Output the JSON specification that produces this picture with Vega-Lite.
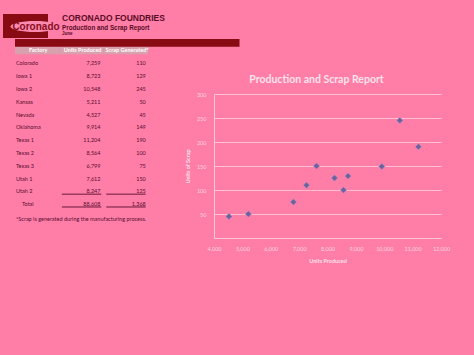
{
  "$schema": "https://vega.github.io/schema/vega-lite/v6.json",
  "width": 227,
  "height": 144,
  "autosize": {"type": "none"},
  "padding": {"left": 214, "top": 94, "right": 33, "bottom": 117},
  "background": "#fe7ea7",
  "config": {"view": {"stroke": null}, "font": "Lato"},
  "title": {"text": "Production and Scrap Report", "frame": "group", "anchor": "middle", "dx": -11, "offset": -72, "font": "Lato", "fontSize": 10.5, "fontWeight": "bold", "color": "#fde3ec"},
  "datasets": {
    "factories": [
      {"factory": "Colorado", "units": 7259, "scrap": 110},
      {"factory": "Iowa 1", "units": 8723, "scrap": 129},
      {"factory": "Iowa 2", "units": 10548, "scrap": 245},
      {"factory": "Kansas", "units": 5211, "scrap": 50},
      {"factory": "Nevada", "units": 4527, "scrap": 45},
      {"factory": "Oklahoma", "units": 9914, "scrap": 149},
      {"factory": "Texas 1", "units": 11204, "scrap": 190},
      {"factory": "Texas 2", "units": 8564, "scrap": 100},
      {"factory": "Texas 3", "units": 6799, "scrap": 75},
      {"factory": "Utah  1", "units": 7612, "scrap": 150},
      {"factory": "Utah  2", "units": 8247, "scrap": 125}
    ],
    "totals": [{"factory": "Total", "units": 88608, "scrap": 1368}],
    "columns": [{"col": "Factory"}, {"col": "Units Produced"}, {"col": "Scrap Generated*"}],
    "underlines": [
      {"col": "Units Produced", "row": "Utah  2"},
      {"col": "Scrap Generated*", "row": "Utah  2"},
      {"col": "Units Produced", "row": "Total"},
      {"col": "Scrap Generated*", "row": "Total"}
    ],
    "one": [{}]
  },
  "layer": [
    {
      "layer": [
        {
          "data": {"name": "columns"},
          "mark": {"type": "rect", "color": "#d8a1ad"},
          "encoding": {
            "x": {"field": "col", "type": "nominal", "axis": null, "scale": {"type": "band", "domain": ["Factory", "Units Produced", "Scrap Generated*"], "range": [-199, -65.7], "paddingInner": 0, "paddingOuter": 0}},
            "y": {"datum": "Factory", "type": "nominal", "axis": null, "scale": {"type": "band", "domain": ["Factory", "Colorado", "Iowa 1", "Iowa 2", "Kansas", "Nevada", "Oklahoma", "Texas 1", "Texas 2", "Texas 3", "Utah  1", "Utah  2", "Total"], "range": [-50, 116.7], "paddingInner": 0.4, "paddingOuter": 0.2}}
          }
        },
        {
          "data": {"name": "columns"},
          "mark": {"type": "text", "color": "#ffffff", "font": "Lato", "fontSize": 5.5, "fontWeight": "bold", "align": "center", "baseline": "middle", "xOffset": 1},
          "encoding": {
            "x": {"field": "col", "type": "nominal", "axis": null},
            "y": {"datum": "Factory", "type": "nominal", "axis": null},
            "text": {"field": "col"}
          }
        },
        {
          "data": {"name": "one"},
          "mark": {"type": "rect", "color": "#880a12", "yOffset": -7.6, "y2Offset": -7.6, "x2Offset": 91.2},
          "encoding": {
            "x": {"datum": "Factory", "type": "nominal", "bandPosition": 0, "axis": null},
            "x2": {"datum": "Scrap Generated*", "bandPosition": 1},
            "y": {"datum": "Factory", "type": "nominal", "axis": null}
          }
        },
        {
          "data": {"name": "one"},
          "mark": {"type": "point", "shape": "M-1,-0.5333H1V0.5333H-1Z", "size": 2025, "filled": true, "color": "#880a12", "opacity": 1, "xOffset": 10.5, "yOffset": -24.4},
          "encoding": {
            "x": {"datum": "Factory", "type": "nominal", "bandPosition": 0, "axis": null},
            "y": {"datum": "Factory", "type": "nominal", "axis": null}
          }
        },
        {
          "data": {"name": "one"},
          "mark": {"type": "point", "shape": "M-1,0C-1,-0.124,-0.5523,-0.2245,0,-0.2245C0.5523,-0.2245,1,-0.124,1,0C1,0.124,0.5523,0.2245,0,0.2245C-0.5523,0.2245,-1,0.124,-1,0Z", "size": 2401, "filled": true, "color": "#fb8ab1", "opacity": 1, "xOffset": 20, "yOffset": -23.9},
          "encoding": {
            "x": {"datum": "Factory", "type": "nominal", "bandPosition": 0, "axis": null},
            "y": {"datum": "Factory", "type": "nominal", "axis": null}
          }
        },
        {
          "data": {"name": "one"},
          "mark": {"type": "text", "text": "Coronado", "font": "Liberation Sans", "fontSize": 10, "fontWeight": "bold", "color": "#8b0a1a", "align": "center", "baseline": "middle", "xOffset": 21, "yOffset": -23.4},
          "encoding": {
            "x": {"datum": "Factory", "type": "nominal", "bandPosition": 0, "axis": null},
            "y": {"datum": "Factory", "type": "nominal", "axis": null}
          }
        },
        {
          "data": {"name": "one"},
          "mark": {"type": "text", "text": "CORONADO FOUNDRIES", "font": "Liberation Sans", "fontSize": 8.5, "fontWeight": "bold", "color": "#5b0b25", "align": "left", "baseline": "middle", "xOffset": 47, "yOffset": -32.9},
          "encoding": {
            "x": {"datum": "Factory", "type": "nominal", "bandPosition": 0, "axis": null},
            "y": {"datum": "Factory", "type": "nominal", "axis": null}
          }
        },
        {
          "data": {"name": "one"},
          "mark": {"type": "text", "text": "Production and Scrap Report", "font": "Liberation Sans", "fontSize": 6.3, "fontWeight": "bold", "color": "#5b0b25", "align": "left", "baseline": "middle", "xOffset": 47, "yOffset": -22.4},
          "encoding": {
            "x": {"datum": "Factory", "type": "nominal", "bandPosition": 0, "axis": null},
            "y": {"datum": "Factory", "type": "nominal", "axis": null}
          }
        },
        {
          "data": {"name": "one"},
          "mark": {"type": "text", "text": "June", "font": "Liberation Sans", "fontSize": 4.5, "fontWeight": "bold", "color": "#5b0b25", "align": "left", "baseline": "middle", "xOffset": 47, "yOffset": -16.2},
          "encoding": {
            "x": {"datum": "Factory", "type": "nominal", "bandPosition": 0, "axis": null},
            "y": {"datum": "Factory", "type": "nominal", "axis": null}
          }
        },
        {
          "data": {"name": "factories"},
          "mark": {"type": "text", "font": "Lato", "fontSize": 5.5, "color": "#5a0c30", "align": "left", "baseline": "middle", "xOffset": 1},
          "encoding": {
            "x": {"datum": "Factory", "type": "nominal", "bandPosition": 0, "axis": null},
            "y": {"field": "factory", "type": "nominal", "axis": null},
            "text": {"field": "factory"}
          }
        },
        {
          "data": {"name": "factories"},
          "mark": {"type": "text", "font": "Lato", "fontSize": 5.5, "color": "#5a0c30", "align": "right", "baseline": "middle", "xOffset": -3.4},
          "encoding": {
            "x": {"datum": "Units Produced", "type": "nominal", "bandPosition": 1, "axis": null},
            "y": {"field": "factory", "type": "nominal", "axis": null},
            "text": {"field": "units", "format": ",.0f"}
          }
        },
        {
          "data": {"name": "factories"},
          "mark": {"type": "text", "font": "Lato", "fontSize": 5.5, "color": "#5a0c30", "align": "right", "baseline": "middle", "xOffset": -2.5},
          "encoding": {
            "x": {"datum": "Scrap Generated*", "type": "nominal", "bandPosition": 1, "axis": null},
            "y": {"field": "factory", "type": "nominal", "axis": null},
            "text": {"field": "scrap", "format": ",.0f"}
          }
        },
        {
          "data": {"name": "totals"},
          "mark": {"type": "text", "font": "Lato", "fontSize": 5.5, "color": "#5a0c30", "align": "left", "baseline": "middle", "xOffset": 7},
          "encoding": {
            "x": {"datum": "Factory", "type": "nominal", "bandPosition": 0, "axis": null},
            "y": {"field": "factory", "type": "nominal", "axis": null},
            "text": {"field": "factory"}
          }
        },
        {
          "data": {"name": "totals"},
          "mark": {"type": "text", "font": "Lato", "fontSize": 5.5, "color": "#5a0c30", "align": "right", "baseline": "middle", "xOffset": -3.4},
          "encoding": {
            "x": {"datum": "Units Produced", "type": "nominal", "bandPosition": 1, "axis": null},
            "y": {"field": "factory", "type": "nominal", "axis": null},
            "text": {"field": "units", "format": ",.0f"}
          }
        },
        {
          "data": {"name": "totals"},
          "mark": {"type": "text", "font": "Lato", "fontSize": 5.5, "color": "#5a0c30", "align": "right", "baseline": "middle", "xOffset": -2.5},
          "encoding": {
            "x": {"datum": "Scrap Generated*", "type": "nominal", "bandPosition": 1, "axis": null},
            "y": {"field": "factory", "type": "nominal", "axis": null},
            "text": {"field": "scrap", "format": ",.0f"}
          }
        },
        {
          "data": {"name": "underlines"},
          "mark": {"type": "rule", "color": "#5a0c30", "strokeWidth": 0.9, "xOffset": 2.4, "x2Offset": -2.6, "yOffset": 2.7},
          "encoding": {
            "x": {"field": "col", "type": "nominal", "bandPosition": 0, "axis": null},
            "x2": {"field": "col", "bandPosition": 1},
            "y": {"field": "row", "type": "nominal", "axis": null}
          }
        },
        {
          "data": {"name": "one"},
          "mark": {"type": "text", "text": "*Scrap is generated during the manufacturing process.", "font": "Lato", "fontSize": 5.5, "color": "#5a0c30", "align": "left", "baseline": "middle", "xOffset": 1, "yOffset": 15},
          "encoding": {
            "x": {"datum": "Factory", "type": "nominal", "bandPosition": 0, "axis": null},
            "y": {"datum": "Total", "type": "nominal", "axis": null}
          }
        }
      ]
    },
    {
      "data": {"name": "factories"},
      "mark": {"type": "point", "shape": "diamond", "filled": true, "size": 42, "color": "#6d62a0", "opacity": 1, "stroke": "#c592bb", "strokeWidth": 1, "strokeOpacity": 0.7},
      "encoding": {
        "x": {
          "field": "units", "type": "quantitative",
          "scale": {"domain": [4000, 12000], "nice": false, "zero": false},
          "axis": {"orient": "bottom", "title": "Units Produced", "values": [4000, 5000, 6000, 7000, 8000, 9000, 10000, 11000, 12000], "labelExpr": "format(datum.value, ',.0f')", "grid": false, "ticks": false, "domain": true, "domainColor": "#fbc6d7", "domainWidth": 1, "labelFlush": false, "labelColor": "#fcd3df", "labelFont": "Lato", "labelFontSize": 5.5, "labelPadding": 8, "titleFont": "Lato", "titleFontSize": 5.5, "titleFontWeight": "bold", "titleColor": "#fde0ea", "titlePadding": 7}
        },
        "y": {
          "field": "scrap", "type": "quantitative",
          "scale": {"domain": [0, 300], "nice": false},
          "axis": {"orient": "left", "title": "Units of Scrap", "values": [50, 100, 150, 200, 250, 300], "labelExpr": "format(datum.value, ',.0f')", "grid": true, "gridColor": "#ffffff", "gridOpacity": 0.5, "gridWidth": 1, "ticks": false, "domain": true, "domainColor": "#fbc6d7", "domainWidth": 1, "labelColor": "#fcd3df", "labelFont": "Lato", "labelFontSize": 5.5, "labelPadding": 8, "titleFont": "Lato", "titleFontSize": 5.5, "titleFontWeight": "bold", "titleColor": "#fde0ea", "titlePadding": 6}
        }
      }
    }
  ],
  "resolve": {"scale": {"x": "independent", "y": "independent"}, "axis": {"x": "independent", "y": "independent"}}
}
